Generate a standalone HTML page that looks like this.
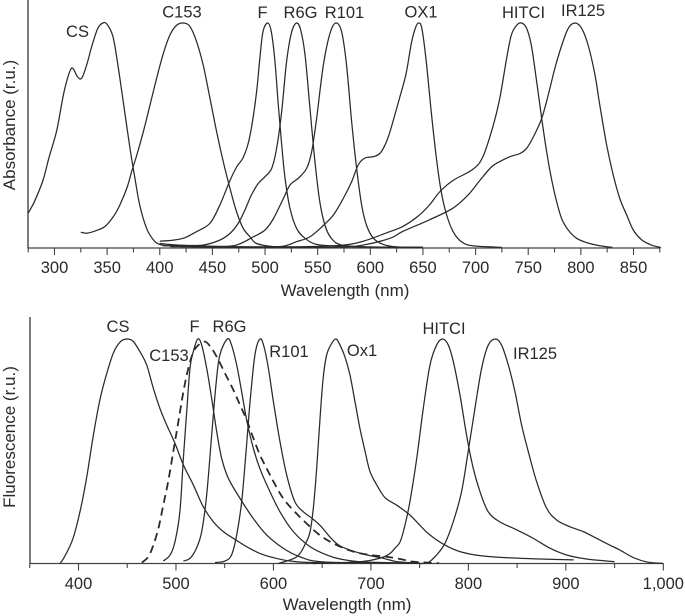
<!DOCTYPE html>
<html lang="en">
<head>
<meta charset="utf-8">
<title>Absorbance and fluorescence spectra</title>
<style>
html,body{margin:0;padding:0;background:#fff;}
svg{display:block;font-family:"Liberation Sans",Arial,sans-serif;fill:#2a2a2a;}
</style>
</head>
<body>
<svg id="fig" xmlns="http://www.w3.org/2000/svg" width="685" height="616" viewBox="0 0 685 616"></svg>
<script>
// ---------- Absorbance panel data (wavelength nm, relative value 0-100) ----------
const absCsNm=[275,281,289,295,302,308,311.5,315.5,318,322,326,331,335,341,346,350,355.5,360,365,371.7,376.4,381,387.5,394,400,413,470,560];
const absCsVal=[15.5,20.7,30,40.6,52,67,74,79.5,79.5,76,75.6,82,89,97.5,100,99.4,94,82,66,44.3,31,19,8.7,3.6,1.6,1,0.4,0.3];
const absC153Nm=[325,331,340,348,356,362,369,373.3,378,384.4,390.7,397,403.4,409.7,416,422.4,428.7,435,441.4,447.7,454,460.3,466.7,473,479.3,485.7,492,508,525];
const absC153Val=[7,6.6,7.8,9.6,14,19,27,34,41,51.7,63.5,75.4,86.5,94.7,99,100,98.4,91.7,81,66.5,51.7,38.4,26.5,16,8.7,5,2,0.6,0.5];
const absFNm=[400,413,424,435,447.7,457,466.7,473,479,484,488,492,495,498,502.5,506,509.4,512.6,515.8,519,523.7,530,538,549,570,600,650];
const absFVal=[3,3.5,4.6,7.3,11,19,30,36,40,46.5,56,69.5,84,96,100,96,83,63.5,46,31,17.6,8.7,4.3,1.6,0.8,0.4,0.3];
const absR6gNm=[400,419,441,457,466.7,474.6,481,487,493.6,500,506.3,511,515.8,520.5,525.3,530,533.8,538,542.7,547.4,552,557,563,573,600,650];
const absR6gVal=[2,1.3,1.3,3.5,6.5,11,17,23.5,28.7,31.7,35.4,44.3,60.6,83,96,100,97,85.8,62,38.4,20.6,10,4.3,1.3,0.5,0.3];
const absR101Nm=[403,440,470,489,500,507.9,517.4,523.7,531.6,539.5,544.3,549,555.3,561.7,567.4,572.8,577.5,582.3,587,591.8,596.5,603,612.3,625,650];
const absR101Val=[1,0.9,1,5,8,13,22,28,31,35.4,42.8,57.6,81,95.4,100,96,81,56,35.4,19,10,4.3,1.6,0.5,0.3];
const absOx1Nm=[410,480,514,530,542.7,555.3,565,574.3,582.3,588.6,595,603,609,614,618.7,628,634,639,643,646,649,653,658,662.6,667,672,678.5,686,697,725];
const absOx1Val=[0.6,0.5,0.6,2.8,5,10,14.7,22,29.5,37,40,40.6,42,45.8,51.7,67,77.5,91,98,100,97.5,83.5,60,40.6,26,15.5,7.4,3,1,0.3];
const absHitciNm=[420,500,540,574,593.3,618.7,631,645,656,666,678.5,697.5,707,716.5,723,729.5,734,739,743.8,748.5,753,758,762.8,767.5,772,777,781.8,788,796,805.5,818,830];
const absHitciVal=[0.6,0.5,0.6,1.3,3,7.3,9.6,14,19,25,30,35,40.6,54,66.5,84.3,94.7,99,100,97.6,90,74,57.6,42.8,31,20.6,13,8,4.3,2.4,1,0.3];
const absIr125Nm=[430,520,571,593,618.7,631,656,678.5,693,704,715,723,732.7,742.2,748.5,755,762.8,769,775.4,781.8,788,794.4,800.8,807,813.4,818,824.5,830.8,837,843.5,849.8,857.8,867,876];
const absIr125Val=[0.4,0.3,0.4,1.3,4.3,7.4,12.5,17.7,23.6,30,36,38.4,40.6,42,44.3,49.5,57.6,68,80,90,97.6,100,97.6,90,77,63.5,45.8,32.4,22,14.7,8,3.6,1.3,0.2];

// ---------- Fluorescence panel data ----------
const fluCsNm=[381,384.6,390,395,402,408.5,415,422,429,436,443,449.6,456,463,470,476.8,483.6,490.5,499,507.6,517.8,528,538.3,548.6,558.9,572.5,586,600,617,641,720];
const fluCsVal=[0,2.2,6.7,12,24,38.6,56.5,73,84.7,94,98.8,100,99,94.4,88.4,78,69,61.7,53.5,43.9,35,25.3,18.6,14.2,11.2,7.5,4.5,2.6,1.1,0.4,0.2];
const fluC153Nm=[465,471.6,476.8,482,487,492,497.3,502.4,507.6,512.7,518,523,530,536.6,543.5,550.3,558.9,565.7,572.5,579.4,586.2,593,600,610,622,636,649.5,664.9,682,699,716,730,743.5,770];
const fluC153Val=[0.4,3,8.2,15.7,26,36.5,50,63,76.5,87,94.4,97.3,98.8,95.8,90.7,84.7,77.3,70.6,64,55.8,48.3,42.4,36.5,29,23,17,12,8.2,5.3,3.8,3,2,0.8,0.1];
const fluFNm=[487,494,499,504,507.6,511,514.4,517.8,522.3,526.4,531.5,536.6,541.8,546.9,553.7,565.7,579.4,593,610,627,648,700,750];
const fluFVal=[1.1,3.8,9.7,23,47,67.6,87,94.4,100,97.3,87,73.6,58.7,46.8,38,29,20,12.7,6.8,3,0.8,0.3,0.1];
const fluR6gNm=[507.6,514.4,521,526.4,531.5,536.6,541,545,552.7,557,562.3,567.4,572.5,579.4,586,594.8,606.7,620.4,637.5,654.6,668.3,688,705,727,750];
const fluR6gVal=[1.1,2.3,6.8,14.2,30.5,57,79.5,92.9,100,97.3,88.4,76.5,64,51.3,42.4,33.5,23,14.2,7.5,3.8,2,0.8,0.5,0.3,0.1];
const fluR101Nm=[540,550.3,557,562.3,567.4,571.9,576,581,586.2,590.3,594.8,600,606.7,613.6,622,630.7,637.5,647.8,658,667,678.5,696,713,727,750];
const fluR101Val=[0.4,1.1,3.8,12.7,27.5,49.8,72,92.9,100,96.6,87,72,54.3,39.4,27.5,23,20.8,17,11.8,8.2,6,3.8,2.3,0.8,0.2];
const fluOx1Nm=[605,624,633,637.5,641,644.3,647.8,651,654.6,659.7,664.2,668.3,673.4,678.5,683.7,688.8,694,699,706,714.5,726.4,740,750.3,760.6,776,791.4,812,839,873.5,908];
const fluOx1Val=[0,3,9,14,25,42,64.7,82.5,92.9,98,100,97.3,92,84,72,60,50,41,35,29.3,26,21.6,17,12.7,8.2,5.3,3.5,2.6,2,1.6];
const fluHitciNm=[640,689,711,719.6,725,730,734.9,740,747,753.7,760.6,767.4,773.6,779.4,784.5,791.4,798.2,805,811.9,820.4,832,849.5,866.6,883.7,900.8,921.3,950];
const fluHitciVal=[0,0.8,2.6,4.5,7,9.7,17,27.5,46.8,69,88.4,97.3,100,97.3,90,75,57,42.4,32,23,18.6,15,11.2,6.8,3.8,2,0.8];
const fluIr125Nm=[750,759,767.4,776,784.5,793,800,806.7,813.6,820.4,828,834,841,847.8,854.6,861.5,870,880.3,890.5,904,917.9,931.6,945,955.5,969,983,1000];
const fluIr125Val=[0,0.5,3.8,9,18.6,32,50.5,69,87,97.3,100,97.3,88.4,76.5,61.7,49.8,36.5,24.6,19.4,16.4,14.2,11.2,8.2,6,2.7,0.7,0];

// ---------- Ticks ----------
const absMajorTicks=[300,350,400,450,500,550,600,650,700,750,800,850];
const absMinorTicks=[275,325,375,425,475,525,575,625,675,725,775,825,875];
const fluMajorTicks=[400,500,600,700,800,900,1000];
const fluMinorTicks=[350,450,550,650,750,850,950];
const fluTickText=['400','500','600','700','800','900','1,000'];

const NS='http://www.w3.org/2000/svg';
const svg=document.getElementById('fig');
const INK='#2a2a2a';

// axis functions
const absX=nm=>54.5+(nm-300)*1.0527;
const absY=v=>248-v*2.25;
const fluX=nm=>78.5+(nm-400)*0.9747;
const fluY=v=>563.5-v*2.245;

function make(tag,attrs,parent){
  const el=document.createElementNS(NS,tag);
  for(const k in attrs){el.setAttribute(k,attrs[k]);}
  (parent||svg).appendChild(el);
  return el;
}
function smoothPath(xs,ys,X,Y){
  const p=xs.map((x,i)=>[X(x),Y(ys[i])]);
  let d='M'+p[0][0].toFixed(2)+' '+p[0][1].toFixed(2);
  for(let i=0;i<p.length-1;i++){
    const a=p[Math.max(i-1,0)],b=p[i],c=p[i+1],e=p[Math.min(i+2,p.length-1)];
    const c1x=b[0]+(c[0]-a[0])/6,c1y=b[1]+(c[1]-a[1])/6;
    const c2x=c[0]-(e[0]-b[0])/6,c2y=c[1]-(e[1]-b[1])/6;
    d+='C'+c1x.toFixed(2)+' '+c1y.toFixed(2)+' '+c2x.toFixed(2)+' '+c2y.toFixed(2)+' '+c[0].toFixed(2)+' '+c[1].toFixed(2);
  }
  return d;
}
function drawSeries(name,xs,ys,X,Y,dash){
  const el=make('path',{d:smoothPath(xs,ys,X,Y),fill:'none',stroke:INK,'stroke-width':dash?1.8:1.25,'stroke-linejoin':'round'});
  
  
  if(dash){el.setAttribute('stroke-dasharray','8 5');}
}
function drawLine(name,x1,y1,x2,y2,w){
  const el=make('line',{x1:x1,y1:y1,x2:x2,y2:y2,stroke:'#444',"stroke-width":w});
  
  
}
function drawText(name,str,x,y,size,anchor,rot){
  const el=make('text',{x:x,y:y,'font-size':size,'text-anchor':anchor||'middle'});
  if(rot){el.setAttribute('transform','rotate(-90 '+x+' '+y+')');}
  el.textContent=str;
  
  
}

// Absorbance axes
drawLine('absorbance-y-axis',28,0,28,248.5,1.4);
drawLine('absorbance-x-axis',27.5,248,660.5,248,1.2);
absMajorTicks.forEach(t=>{
  drawLine('absorbance-major-tick',absX(t),248,absX(t),255,1.1);
  drawText('absorbance-x-tick-label',String(t),absX(t),273,16.5);
});
absMinorTicks.forEach(t=>{
  drawLine('absorbance-minor-tick',absX(t),248,absX(t),252.5,1.1);
});
drawText('absorbance-x-axis-title','Wavelength (nm)',345,296,17);
drawText('absorbance-y-axis-title','Absorbance (r.u.)',15,125,17,'middle',true);

// Absorbance series
drawSeries('abs-cs-curve',absCsNm,absCsVal,absX,absY);
drawSeries('abs-c153-curve',absC153Nm,absC153Val,absX,absY);
drawSeries('abs-f-curve',absFNm,absFVal,absX,absY);
drawSeries('abs-r6g-curve',absR6gNm,absR6gVal,absX,absY);
drawSeries('abs-r101-curve',absR101Nm,absR101Val,absX,absY);
drawSeries('abs-ox1-curve',absOx1Nm,absOx1Val,absX,absY);
drawSeries('abs-hitci-curve',absHitciNm,absHitciVal,absX,absY);
drawSeries('abs-ir125-curve',absIr125Nm,absIr125Val,absX,absY);

// Absorbance labels
drawText('abs-label-cs','CS',77.5,37,16.5);
drawText('abs-label-c153','C153',182,17.5,16.5);
drawText('abs-label-f','F',262.5,18,16.5);
drawText('abs-label-r6g','R6G',300.5,18,16.5);
drawText('abs-label-r101','R101',344.5,18,16.5);
drawText('abs-label-ox1','OX1',421,17.5,16.5);
drawText('abs-label-hitci','HITCI',523.5,18,16.5);
drawText('abs-label-ir125','IR125',583,16,16.5);

// Fluorescence axes
drawLine('fluorescence-y-axis',30,317,30,564,1.4);
drawLine('fluorescence-x-axis',30,563.5,663.5,563.5,1.2);
fluMajorTicks.forEach((t,i)=>{
  drawLine('fluorescence-major-tick',fluX(t),563.5,fluX(t),570.5,1.1);
  drawText('fluorescence-x-tick-label',fluTickText[i],fluX(t),589,16.5);
});
fluMinorTicks.forEach(t=>{
  drawLine('fluorescence-minor-tick',fluX(t),563.5,fluX(t),568,1.1);
});
drawText('fluorescence-x-axis-title','Wavelength (nm)',347,610,17);
drawText('fluorescence-y-axis-title','Fluorescence (r.u.)',15,437,17,'middle',true);

// Fluorescence series
drawSeries('flu-cs-curve',fluCsNm,fluCsVal,fluX,fluY);
drawSeries('flu-c153-curve',fluC153Nm,fluC153Val,fluX,fluY,true);
drawSeries('flu-f-curve',fluFNm,fluFVal,fluX,fluY);
drawSeries('flu-r6g-curve',fluR6gNm,fluR6gVal,fluX,fluY);
drawSeries('flu-r101-curve',fluR101Nm,fluR101Val,fluX,fluY);
drawSeries('flu-ox1-curve',fluOx1Nm,fluOx1Val,fluX,fluY);
drawSeries('flu-hitci-curve',fluHitciNm,fluHitciVal,fluX,fluY);
drawSeries('flu-ir125-curve',fluIr125Nm,fluIr125Val,fluX,fluY);

// Fluorescence labels
drawText('flu-label-cs','CS',118,332,16.5);
drawText('flu-label-f','F',194.5,332,16.5);
drawText('flu-label-r6g','R6G',229.5,332,16.5);
drawText('flu-label-c153','C153',169,361,16.5);
drawText('flu-label-r101','R101',289,357,16.5);
drawText('flu-label-ox1','Ox1',362,356,16.5);
drawText('flu-label-hitci','HITCI',444,334,16.5);
drawText('flu-label-ir125','IR125',535,359,16.5);
</script>
</body>
</html>
